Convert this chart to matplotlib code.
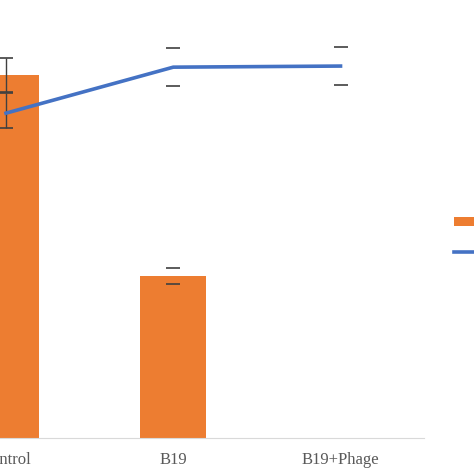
import matplotlib
matplotlib.use("Agg")
import matplotlib.pyplot as plt

# data (axes are cropped out of the reference, units are relative)
categories = ["Control", "B19", "B19+Phage"]
bar_values = [9.95, 4.44, 0.0]
bar_errors = [0.47, 0.22]          # Control, B19
line_values = [89.0, 101.6, 101.9]
line_err_low = [4.1, 5.2, 5.2]
line_err_high = [5.5, 5.2, 5.2]
series_names = ["CFU", "OD"]

ORANGE = "#ED7D31"
BLUE = "#4472C4"
ERR = "#404040"

fig = plt.figure(figsize=(4.74, 4.74), dpi=100)
ax = fig.add_axes([0.0, 36 / 474, 1.0, 438 / 474])
x = list(range(len(categories)))

bars = ax.bar(x, bar_values, width=0.395, color=ORANGE, zorder=2, label=series_names[0])
# Control has a visible stem, the others only caps
ax.errorbar(x[:1], bar_values[:1], yerr=bar_errors[:1], fmt="none", ecolor=ERR,
            elinewidth=1.0, capsize=5, capthick=1.2, zorder=3)
ax.errorbar(x[1:2], bar_values[1:2], yerr=bar_errors[1:2], fmt="none",
            ecolor=ERR, elinewidth=0, capsize=5, capthick=1.2, zorder=3)
ax.set_ylim(0, 12)

ax2 = ax.twinx()
line, = ax2.plot(x, line_values, color=BLUE, lw=2.6, zorder=4, label=series_names[1])
ax2.errorbar(x[:1], line_values[:1], yerr=[line_err_low[:1], line_err_high[:1]], fmt="none",
             ecolor=ERR, elinewidth=1.0, capsize=5, capthick=1.2, zorder=3)
ax2.errorbar(x[1:], line_values[1:], yerr=[line_err_low[1:], line_err_high[1:]], fmt="none",
             ecolor=ERR, elinewidth=0, capsize=5, capthick=1.2, zorder=3)
ax2.set_ylim(0, 120)

for a in (ax, ax2):
    a.set_xlim(-0.036, 2.497 * 474 / 423)
    for s in a.spines.values():
        s.set_visible(False)
    a.set_yticks([])

ax.spines["bottom"].set_visible(True)
ax.spines["bottom"].set_color("#d9d9d9")
ax.spines["bottom"].set_bounds(-0.036, 2.497)
ax.set_xticks(x)
ax.set_xticklabels(categories, fontfamily="Liberation Serif", fontsize=12, color="#595959")
ax.tick_params(axis="x", length=0, pad=10)

fig.legend([bars, line], series_names, loc="upper left", bbox_to_anchor=(0.928, 0.575),
           frameon=False, handlelength=1.6, handleheight=0.5, labelspacing=0.95,
           fontsize=11)

fig.savefig("out.png", dpi=100)
